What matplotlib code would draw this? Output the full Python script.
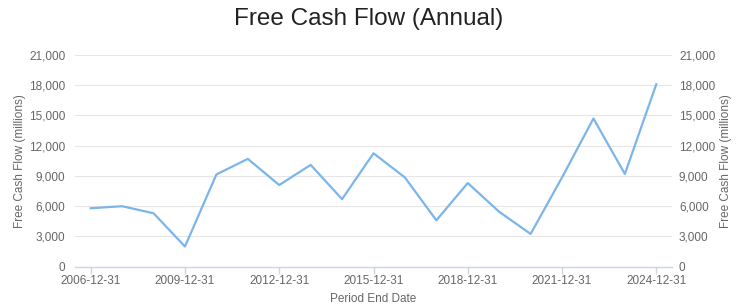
import matplotlib
matplotlib.use("Agg")
import matplotlib.pyplot as plt
from matplotlib.ticker import FuncFormatter, MultipleLocator

plt.rcParams["font.family"] = ["Liberation Sans", "DejaVu Sans"]

# Free cash flow (millions), annual period end dates
dates = [f"{y}-12-31" for y in range(2006, 2025)]
fcf = [5800, 6000, 5300, 2000, 9150, 10700, 8100, 10100, 6700, 11250,
       8850, 4600, 8300, 5450, 3250, 8850, 14700, 9200, 18100]
tick_every = 3

LINE = "#7cb5ec"
GRID = "#e6e6e6"
TEXT = "#666666"
AXIS = "#ccd6eb"

W, H = 738, 308
left, right, top, bottom = 75, 672, 55, 266.7

fig = plt.figure(figsize=(W / 100, H / 100), dpi=100)
ax = fig.add_axes([left / W, 1 - bottom / H, (right - left) / W, (bottom - top) / H])

x = list(range(len(dates)))
ax.plot(x, fcf, color=LINE, linewidth=1.6, zorder=3)

ax.set_xlim(-0.5, len(dates) - 0.5)
ax.set_ylim(0, 21000)
ax.yaxis.set_major_locator(MultipleLocator(3000))
fmt = FuncFormatter(lambda v, p: f"{int(v):,}")
ax.yaxis.set_major_formatter(fmt)
ax.grid(axis="y", color=GRID, linewidth=0.8, zorder=0)

ax.set_xticks(x[::tick_every])
ax.set_xticklabels(dates[::tick_every])

for s in ["top", "left", "right"]:
    ax.spines[s].set_visible(False)
ax.spines["bottom"].set_color(AXIS)
ax.spines["bottom"].set_linewidth(1)

ax.tick_params(axis="x", colors=AXIS, length=5, width=1, labelcolor=TEXT, labelsize=8.5, pad=1)
ax.tick_params(axis="y", length=0, labelcolor=TEXT, labelsize=8.5, pad=7)

ax.set_xlabel("Period End Date", color=TEXT, fontsize=8.5, labelpad=4)
ax.set_ylabel("Free Cash Flow (millions)", color=TEXT, fontsize=8.5)
ax.yaxis.set_label_coords((26 - left) / (right - left), 0.5)

ax2 = ax.twinx()
ax2.set_ylim(ax.get_ylim())
ax2.yaxis.set_major_locator(MultipleLocator(3000))
ax2.yaxis.set_major_formatter(fmt)
for s in ["top", "left", "right", "bottom"]:
    ax2.spines[s].set_visible(False)
ax2.tick_params(axis="y", length=0, labelcolor=TEXT, labelsize=8.5, pad=5)
ax2.set_ylabel("Free Cash Flow (millions)", color=TEXT, fontsize=8.5)
ax2.yaxis.set_label_coords((720 - left) / (right - left), 0.5)

fig.suptitle("Free Cash Flow (Annual)", fontsize=17.5, color="#222222", y=0.975)

fig.savefig("out.png", dpi=100)
